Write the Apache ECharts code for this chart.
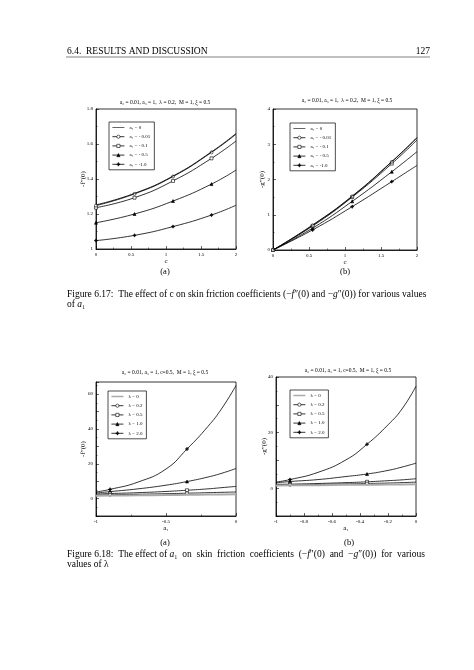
<!DOCTYPE html>
<html>
<head>
<meta charset="utf-8">
<script src="https://cdn.jsdelivr.net/npm/echarts@6/dist/echarts.min.js"></script>
<style>
  html, body { margin: 0; padding: 0; background: #fff; }
  #page { width: 474px; height: 670px; }
</style>
</head>
<body>
<div id="page"></div>
<script>
// Figure 6.17: skin friction vs c for several a1
const cValues = [0, 0.55, 1.1, 1.65, 2];
const cMarkers = [0, 0.55, 1.1, 1.65];
const a1Names = ['a₁ = 0', 'a₁ = - 0.01', 'a₁ = - 0.1', 'a₁ = - 0.5', 'a₁ = -1.0'];
const fppVsC = [
  [1.252, 1.318, 1.417, 1.555, 1.660],
  [1.248, 1.315, 1.414, 1.552, 1.656],
  [1.236, 1.293, 1.389, 1.518, 1.617],
  [1.150, 1.200, 1.274, 1.371, 1.451],
  [1.048, 1.078, 1.128, 1.194, 1.250]
];
const gppVsC = [
  [0, 0.71, 1.53, 2.51, 3.19],
  [0, 0.70, 1.52, 2.50, 3.18],
  [0, 0.68, 1.50, 2.45, 3.12],
  [0, 0.62, 1.38, 2.22, 2.79],
  [0, 0.57, 1.23, 1.94, 2.40]
];

// Figure 6.18: skin friction vs a1 for several lambda
const a1Values = [-1, -0.9, -0.7, -0.5, -0.35, -0.2, -0.1, 0];
const a1Markers = [-0.9, -0.35];
const lambdaNames = ['λ = 0', 'λ = 0.2', 'λ = 0.5', 'λ = 1.0', 'λ = 2.0'];
const fppVsA1 = [
  [1.7, 1.8, 1.9, 2.05, 2.15, 2.3, 2.4, 2.5],
  [2.0, 2.2, 2.5, 2.8, 3.1, 3.4, 3.6, 3.8],
  [2.6, 2.9, 3.4, 4.1, 4.8, 5.6, 6.3, 7.0],
  [3.2, 4.0, 5.6, 7.7, 9.8, 12.4, 14.6, 17.3],
  [3.8, 5.3, 9.5, 17.0, 28.5, 41.5, 52.0, 65.0]
];
const gppVsA1 = [
  [1.0, 1.03, 1.1, 1.2, 1.25, 1.3, 1.35, 1.4],
  [1.2, 1.25, 1.35, 1.55, 1.7, 1.85, 2.0, 2.2],
  [1.4, 1.45, 1.7, 2.0, 2.3, 2.7, 3.0, 3.4],
  [1.9, 2.4, 3.1, 4.2, 5.1, 6.4, 7.6, 9.0],
  [2.2, 3.1, 5.7, 10.2, 15.8, 22.8, 28.5, 36.7]
];

const serif = '"Liberation Serif", "DejaVu Serif", serif';
const plus = 'path://M4,0h2v4h4v2h-4v4h-2v-4h-4v-2h4z';
const bar = (h) => 'path://M0,0h24v' + h + 'h-24z';
const symbols = ['none', 'circle', 'rect', 'triangle', plus];
const fills = ['#000', '#fff', '#fff', '#000', '#000'];

const grids = [
  { left: 96, top: 109, width: 140, height: 140 },
  { left: 273, top: 109, width: 144, height: 141 },
  { left: 96, top: 382, width: 140, height: 134 },
  { left: 276, top: 377, width: 140, height: 139 }
];

const xAxis = (gi, min, max, interval, name, gap) => ({
  type: 'value', gridIndex: gi, min, max, interval,
  name, nameLocation: 'middle', nameGap: gap, nameMoveOverlap: false,
  nameTextStyle: { fontFamily: serif, fontSize: 7, color: '#000' },
  axisLine: { show: true, onZero: false, lineStyle: { color: '#000', width: 0.8 } },
  axisTick: { inside: true, length: 3, lineStyle: { color: '#000', width: 0.6 } },
  minorTick: { show: true, splitNumber: 2, length: 1.5, lineStyle: { color: '#000', width: 0.5 } },
  axisLabel: { fontFamily: serif, fontSize: 5, color: '#000', margin: 3 },
  splitLine: { show: false }
});

const yAxis = (gi, min, max, interval, name, gap, fmt) => ({
  type: 'value', gridIndex: gi, min, max, interval,
  name, nameLocation: 'middle', nameGap: gap, nameMoveOverlap: false,
  nameTextStyle: { fontFamily: serif, fontSize: 7, color: '#000' },
  axisLine: { show: true, onZero: false, lineStyle: { color: '#000', width: 0.8 } },
  axisTick: { inside: true, length: 3, lineStyle: { color: '#000', width: 0.6 } },
  minorTick: { show: true, splitNumber: 2, length: 1.5, lineStyle: { color: '#000', width: 0.5 } },
  axisLabel: { fontFamily: serif, fontSize: 5, color: '#000', margin: 3, formatter: fmt },
  splitLine: { show: false }
});

const every20 = (v) => (Math.round(v) % 20 === 0 ? String(Math.round(v)) : '');

function curves(gi, names, xs, rows, marks, grayFirst) {
  return rows.map((ys, k) => ({
    name: names[k],
    type: 'line',
    xAxisIndex: gi,
    yAxisIndex: gi,
    data: xs.map((x, i) => [x, ys[i]]),
    smooth: 0.5,
    symbol: symbols[k],
    symbolSize: (v) => (marks.some((m) => Math.abs(m - v[0]) < 1e-6) ? 3 : 0),
    showAllSymbol: true,
    lineStyle: grayFirst && k === 0 ? { color: '#aaa', width: 2 } : { color: '#000', width: 0.8 },
    itemStyle: { color: fills[k], borderColor: '#000', borderWidth: 0.6 },
    emphasis: { disabled: true },
    z: 5 - k
  }));
}

const legend = (left, top, names, grayFirst) => ({
  data: names.map((n, k) => (k === 0
    ? { name: n, icon: bar(grayFirst ? 3 : 1.2), itemStyle: { color: grayFirst ? '#aaa' : '#000', borderWidth: 0 } }
    : { name: n })),
  left, top, orient: 'vertical',
  itemWidth: 12, itemHeight: 4, itemGap: 4.2,
  padding: [3, 4, 3, 3],
  borderColor: '#000', borderWidth: 0.7,
  selectedMode: false,
  itemStyle: { borderWidth: 0.6 },
  lineStyle: { width: 0.8 },
  textStyle: { fontFamily: serif, fontSize: 5, color: '#000' }
});

const txt = (x, y, text, size, align) => ({
  type: 'text', x, y, silent: true,
  style: {
    text, fill: '#000', font: size + 'px ' + serif,
    fontSize: size, fontFamily: serif,
    align: align || 'left', textAlign: align || 'left',
    verticalAlign: 'middle', textVerticalAlign: 'middle'
  }
});

const it = (s) => ({ fontSize: s, fontFamily: serif, fontStyle: 'italic', fill: '#000' });
const richTxt = (x, y, text, size) => ({
  type: 'text', x, y, silent: true,
  style: {
    text, fill: '#000', fontSize: size, fontFamily: serif,
    align: 'left', textAlign: 'left', verticalAlign: 'middle', textVerticalAlign: 'middle',
    rich: { i: it(size) }
  }
});

const chart = echarts.init(document.getElementById('page'), null, { renderer: 'canvas' });

chart.setOption({
  backgroundColor: '#fff',
  animation: false,
  grid: grids.map((g) => Object.assign({ show: true, borderColor: '#000', borderWidth: 0.8, containLabel: false }, g)),
  xAxis: [
    xAxis(0, 0, 2, 0.5, 'c', 9),
    xAxis(1, 0, 2, 0.5, 'c', 9),
    xAxis(2, -1, 0, 0.5, 'a₁', 9),
    xAxis(3, -1, 0, 0.2, 'a₁', 9)
  ],
  yAxis: [
    yAxis(0, 1, 1.8, 0.2, '-f′′(0)', 9),
    yAxis(1, 0, 4, 1, '-g′′(0)', 7),
    yAxis(2, -10, 67, 10, '-f′′(0)', 9, every20),
    yAxis(3, -10, 40, 10, '-g′′(0)', 8, every20)
  ],
  legend: [
    legend(109, 122, a1Names, false),
    legend(290, 123, a1Names, false),
    legend(108, 391, lambdaNames, true),
    legend(290, 390, lambdaNames, true)
  ],
  series: [].concat(
    curves(0, a1Names, cValues, fppVsC, cMarkers, false),
    curves(1, a1Names, cValues, gppVsC, cMarkers, false),
    curves(2, lambdaNames, a1Values, fppVsA1, a1Markers, true),
    curves(3, lambdaNames, a1Values, gppVsA1, a1Markers, true)
  ),
  graphic: [
    txt(67, 51, '6.4.  RESULTS AND DISCUSSION', 9.5),
    txt(430, 51, '127', 9.5, 'right'),
    { type: 'line', silent: true, shape: { x1: 66, y1: 57, x2: 430, y2: 57 }, style: { stroke: '#000', lineWidth: 0.5 } },

    txt(165, 103, 'a₂ = 0.01, a₃ = 1,  λ = 0.2,  M = 1, ξ = 0.5', 5.5, 'center'),
    txt(347, 101, 'a₂ = 0.01, a₃ = 1,  λ = 0.2,  M = 1, ξ = 0.5', 5.5, 'center'),
    txt(165, 373, 'a₂ = 0.01, a₃ = 1, c=0.5,  M = 1, ξ = 0.5', 5.5, 'center'),
    txt(348, 371, 'a₂ = 0.01, a₃ = 1, c=0.5,  M = 1, ξ = 0.5', 5.5, 'center'),

    txt(165, 272, '(a)', 8.5, 'center'),
    txt(345, 272, '(b)', 8.5, 'center'),
    txt(165, 543, '(a)', 8.5, 'center'),
    txt(349, 543, '(b)', 8.5, 'center'),

    richTxt(67, 294, 'Figure 6.17:  The effect of c on skin friction coefficients (−{i|f}″(0) and −{i|g}″(0)) for various values', 9.5),
    richTxt(67, 304, 'of {i|a}₁', 9.5),
    richTxt(67, 554, 'Figure 6.18:  The effect of {i|a}₁  on  skin  friction  coefficients  (−{i|f}″(0)  and  −{i|g}″(0))  for  various', 9.5),
    richTxt(67, 564, 'values of λ', 9.5)
  ]
});
</script>
</body>
</html>
